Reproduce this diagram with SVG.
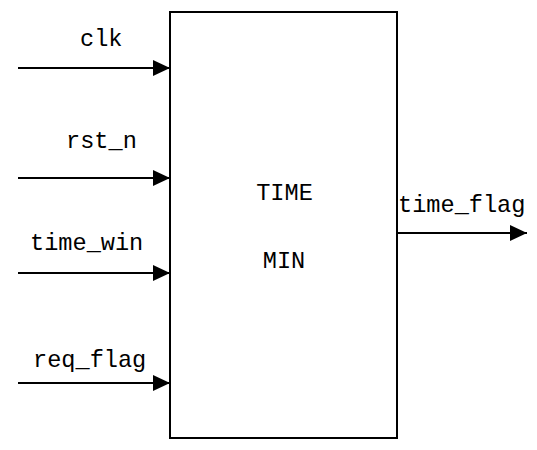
<svg xmlns="http://www.w3.org/2000/svg" width="537" height="450" viewBox="0 0 537 450">
<style>
text{font-family:"Liberation Mono","DejaVu Sans Mono",monospace;font-size:23.6px;fill:#000}
.w{stroke:#000;stroke-width:2;fill:none}
</style>
<defs>
<marker id="ah" markerWidth="18" markerHeight="16" refX="17" refY="8" orient="auto" markerUnits="userSpaceOnUse">
<path d="M0,0 L17,8 L0,16 Z" fill="#000"/>
</marker>
</defs>
<rect width="537" height="450" fill="#fff"/>
<g id="block">
<rect x="170" y="12" width="227" height="426" class="w"/>
<text x="284.5" y="200" text-anchor="middle">TIME</text>
<text x="284" y="268" text-anchor="middle">MIN</text>
</g>
<g id="connectors">
<line x1="18" y1="68" x2="170" y2="68" class="w" marker-end="url(#ah)"/>
<line x1="18" y1="178" x2="170" y2="178" class="w" marker-end="url(#ah)"/>
<line x1="18" y1="273" x2="170" y2="273" class="w" marker-end="url(#ah)"/>
<line x1="18" y1="383" x2="170" y2="383" class="w" marker-end="url(#ah)"/>
<line x1="397" y1="233" x2="527" y2="233" class="w" marker-end="url(#ah)"/>
</g>
<g id="labels">
<text x="80" y="46">clk</text>
<text x="66" y="148">rst_n</text>
<text x="30" y="250">time_win</text>
<text x="33" y="367">req_flag</text>
<text x="398" y="212">time_flag</text>
</g>
</svg>
